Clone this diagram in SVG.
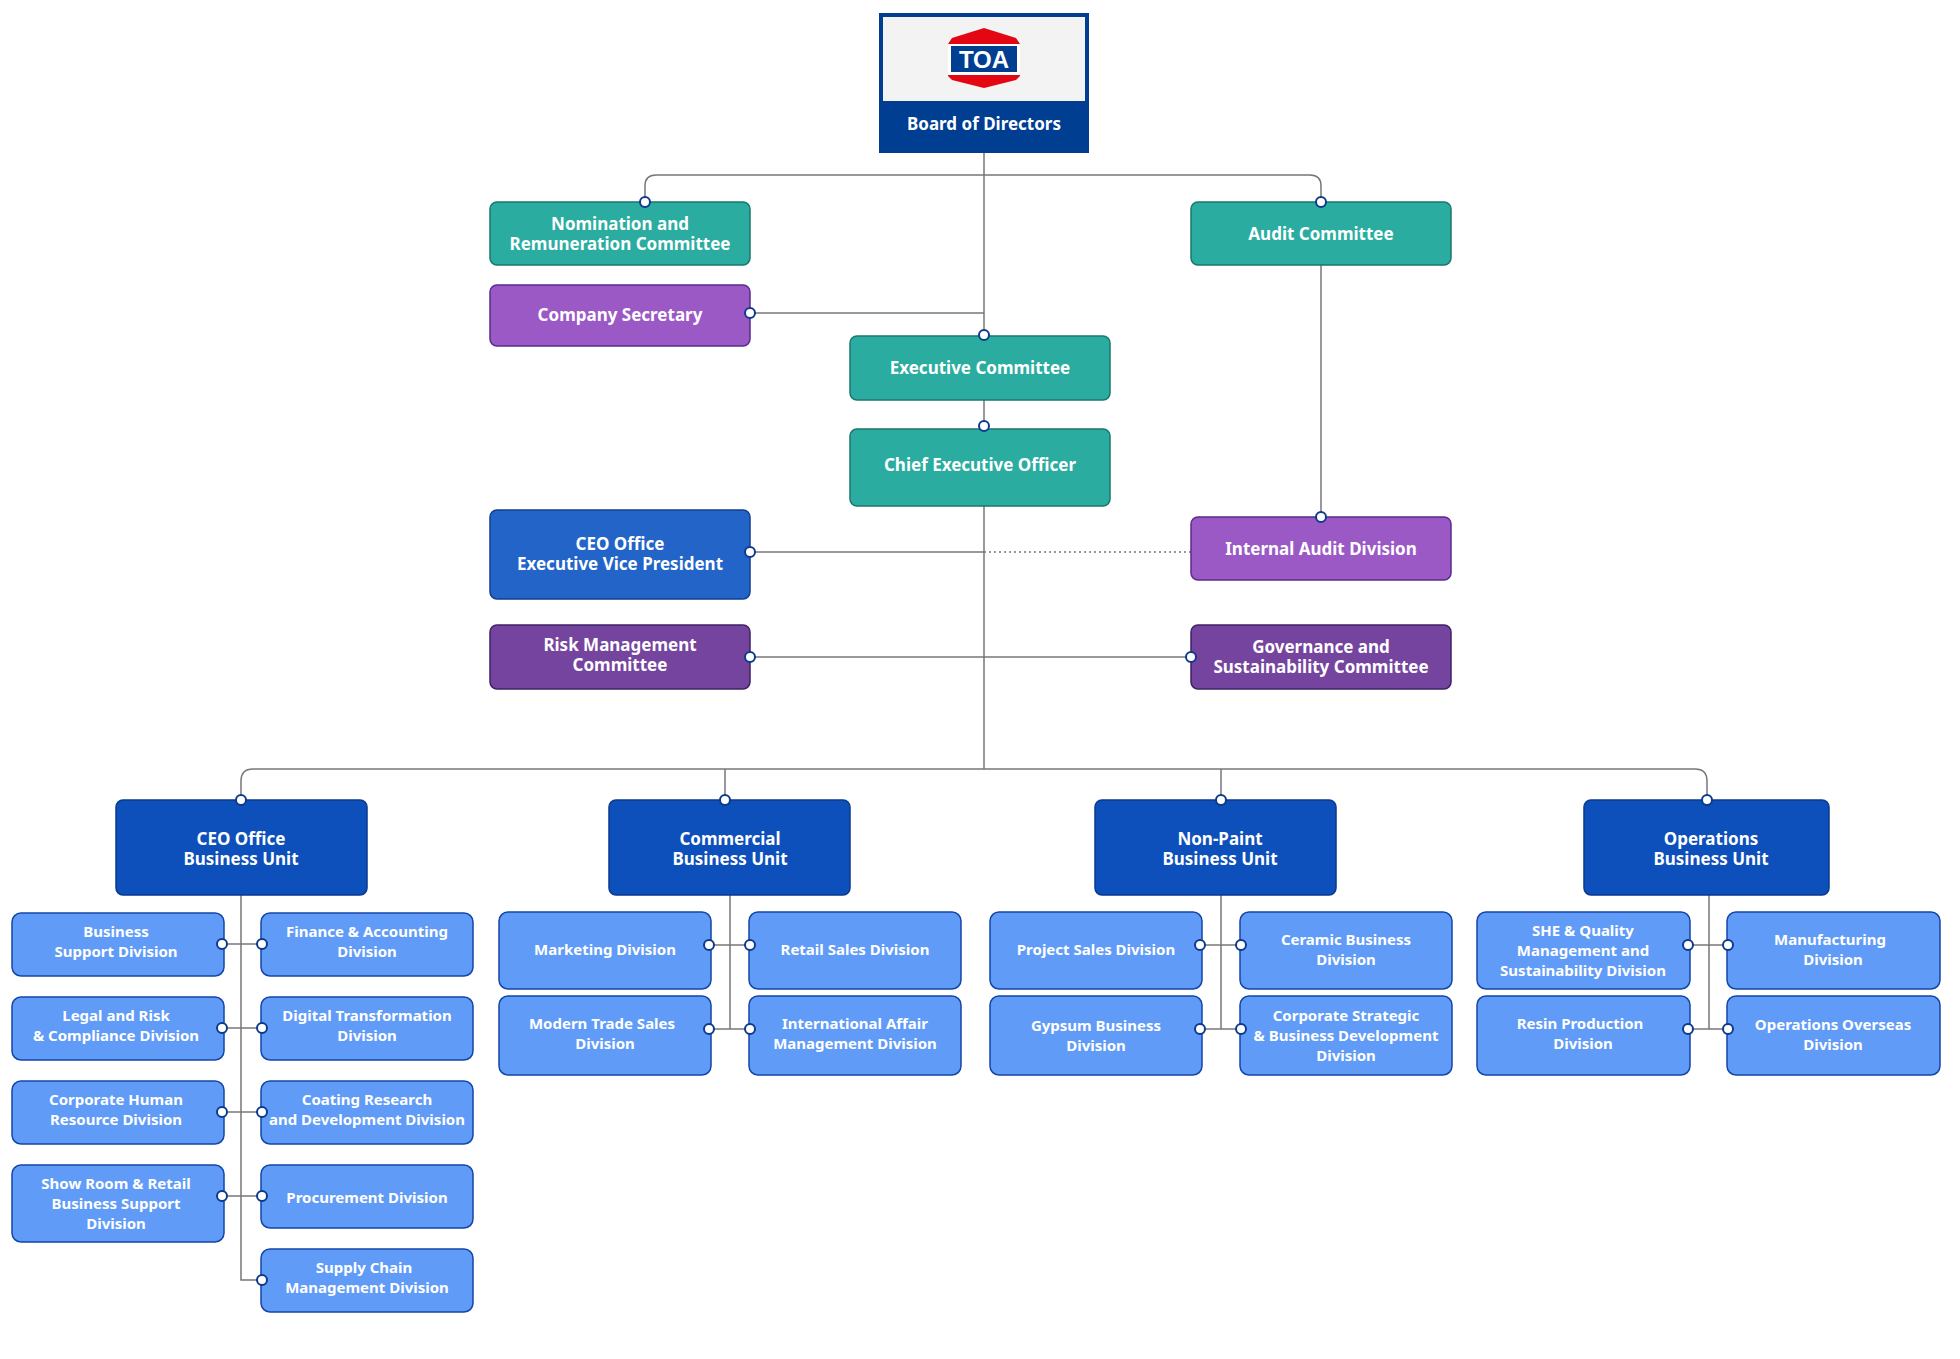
<svg xmlns="http://www.w3.org/2000/svg" width="1960" height="1359" viewBox="0 0 1960 1359">
<style>
text{font-family:"Noto Sans","DejaVu Sans",sans-serif;font-weight:bold;fill:#fff;text-anchor:middle}
.t{fill:#2aada0;stroke:#19776e;stroke-width:1.5}
.p{fill:#9b59c6;stroke:#5a2d8a;stroke-width:1.5}
.dp{fill:#74449e;stroke:#3e2266;stroke-width:1.5}
.b{fill:#2264c8;stroke:#123f8f;stroke-width:1.5}
.bu{fill:#0d4fbb;stroke:#0a3a8c;stroke-width:1.5}
.d{fill:#619bf8;stroke:#1446a8;stroke-width:1.5}
.n{font-size:17px}
.s{font-size:15px}
.c path,.c line{fill:none;stroke:#777;stroke-width:1.5}
.dot{fill:#fff;stroke:#0d3a8a;stroke-width:2}
</style>
<rect width="1960" height="1359" fill="#fff"/>
<g class="c">
<line x1="984" y1="153" x2="984" y2="769"/>
<path d="M645 202V186Q645 175 656 175H1310Q1321 175 1321 186V202"/>
<line x1="750" y1="313" x2="984" y2="313"/>
<line x1="1321" y1="265" x2="1321" y2="517"/>
<line x1="750" y1="552" x2="984" y2="552"/>
<line x1="984" y1="552" x2="1191" y2="552" stroke-dasharray="2,3"/>
<line x1="750" y1="657" x2="1191" y2="657"/>
<path d="M241 800V781Q241 769 253 769H1695Q1707 769 1707 781V800"/>
<line x1="725" y1="769" x2="725" y2="800"/>
<line x1="1221" y1="769" x2="1221" y2="800"/>
<path d="M241 895V1280H261"/>
<line x1="224" y1="944" x2="261" y2="944"/>
<line x1="224" y1="1028" x2="261" y2="1028"/>
<line x1="224" y1="1112" x2="261" y2="1112"/>
<line x1="224" y1="1196" x2="261" y2="1196"/>
<path d="M730 895V1029"/>
<line x1="711" y1="945" x2="749" y2="945"/><line x1="711" y1="1029" x2="749" y2="1029"/>
<path d="M1221 895V1029"/>
<line x1="1202" y1="945" x2="1240" y2="945"/><line x1="1202" y1="1029" x2="1240" y2="1029"/>
<path d="M1709 895V1029"/>
<line x1="1690" y1="945" x2="1727" y2="945"/><line x1="1690" y1="1029" x2="1727" y2="1029"/>
</g>
<g id="board">
<rect x="879" y="13" width="210" height="140" fill="#003e92"/>
<rect x="883" y="17" width="202" height="84" fill="#f3f3f3"/>
<polygon points="984,28 1016,38 1020,44 1020,76 1016,80 984,88 952,80 948,76 948,44 952,38" fill="#e30613"/>
<rect x="948" y="44" width="72" height="31" fill="#fff"/>
<rect x="951" y="46" width="66" height="26" fill="#003e92"/>
<text x="984" y="68" style="font-size:24px;font-family:'Liberation Sans',sans-serif;font-weight:900">TOA</text>
<text x="984" y="130" class="n">Board of Directors</text>
</g>
<g id="nomination"><rect x="490" y="202" width="260" height="63" rx="7" class="t"/><text x="620" y="230" class="n">Nomination and<tspan x="620" dy="20">Remuneration Committee</tspan></text></g>
<g id="audit"><rect x="1191" y="202" width="260" height="63" rx="7" class="t"/><text x="1321" y="240" class="n">Audit Committee</text></g>
<g id="secretary"><rect x="490" y="285" width="260" height="61" rx="7" class="p"/><text x="620" y="321" class="n">Company Secretary</text></g>
<g id="exec"><rect x="850" y="336" width="260" height="64" rx="7" class="t"/><text x="980" y="374" class="n">Executive Committee</text></g>
<g id="ceo"><rect x="850" y="429" width="260" height="77" rx="7" class="t"/><text x="980" y="471" class="n">Chief Executive Officer</text></g>
<g id="evp"><rect x="490" y="510" width="260" height="89" rx="7" class="b"/><text x="620" y="550" class="n">CEO Office<tspan x="620" dy="20">Executive Vice President</tspan></text></g>
<g id="internal"><rect x="1191" y="517" width="260" height="63" rx="7" class="p"/><text x="1321" y="555" class="n">Internal Audit Division</text></g>
<g id="risk"><rect x="490" y="625" width="260" height="64" rx="7" class="dp"/><text x="620" y="651" class="n">Risk Management<tspan x="620" dy="20">Committee</tspan></text></g>
<g id="gov"><rect x="1191" y="625" width="260" height="64" rx="7" class="dp"/><text x="1321" y="653" class="n">Governance and<tspan x="1321" dy="20">Sustainability Committee</tspan></text></g>

<g id="bu1"><rect x="116" y="800" width="251" height="95" rx="7" class="bu"/><text x="241" y="845" class="n">CEO Office<tspan x="241" dy="20">Business Unit</tspan></text></g>
<g id="bu2"><rect x="609" y="800" width="241" height="95" rx="7" class="bu"/><text x="730" y="845" class="n">Commercial<tspan x="730" dy="20">Business Unit</tspan></text></g>
<g id="bu3"><rect x="1095" y="800" width="241" height="95" rx="7" class="bu"/><text x="1220" y="845" class="n">Non-Paint<tspan x="1220" dy="20">Business Unit</tspan></text></g>
<g id="bu4"><rect x="1584" y="800" width="245" height="95" rx="7" class="bu"/><text x="1711" y="845" class="n">Operations<tspan x="1711" dy="20">Business Unit</tspan></text></g>

<g id="d1"><rect x="12" y="913" width="212" height="63" rx="9" class="d"/><text x="116" y="937" class="s">Business<tspan x="116" dy="20">Support Division</tspan></text></g>
<g id="d2"><rect x="261" y="913" width="212" height="63" rx="9" class="d"/><text x="367" y="937" class="s">Finance &amp; Accounting<tspan x="367" dy="20">Division</tspan></text></g>
<g id="d3"><rect x="12" y="997" width="212" height="63" rx="9" class="d"/><text x="116" y="1021" class="s">Legal and Risk<tspan x="116" dy="20">&amp; Compliance Division</tspan></text></g>
<g id="d4"><rect x="261" y="997" width="212" height="63" rx="9" class="d"/><text x="367" y="1021" class="s">Digital Transformation<tspan x="367" dy="20">Division</tspan></text></g>
<g id="d5"><rect x="12" y="1081" width="212" height="63" rx="9" class="d"/><text x="116" y="1105" class="s">Corporate Human<tspan x="116" dy="20">Resource Division</tspan></text></g>
<g id="d6"><rect x="261" y="1081" width="212" height="63" rx="9" class="d"/><text x="367" y="1105" class="s">Coating Research<tspan x="367" dy="20">and Development Division</tspan></text></g>
<g id="d7"><rect x="12" y="1165" width="212" height="77" rx="9" class="d"/><text x="116" y="1189" class="s">Show Room &amp; Retail<tspan x="116" dy="20">Business Support</tspan><tspan x="116" dy="20">Division</tspan></text></g>
<g id="d8"><rect x="261" y="1165" width="212" height="63" rx="9" class="d"/><text x="367" y="1203" class="s">Procurement Division</text></g>
<g id="d9"><rect x="261" y="1249" width="212" height="63" rx="9" class="d"/><text x="364" y="1273" class="s">Supply Chain<tspan x="367" dy="20">Management Division</tspan></text></g>

<g id="c1"><rect x="499" y="912" width="212" height="77" rx="9" class="d"/><text x="605" y="955" class="s">Marketing Division</text></g>
<g id="c2"><rect x="749" y="912" width="212" height="77" rx="9" class="d"/><text x="855" y="955" class="s">Retail Sales Division</text></g>
<g id="c3"><rect x="499" y="996" width="212" height="79" rx="9" class="d"/><text x="602" y="1029" class="s">Modern Trade Sales<tspan x="605" dy="20">Division</tspan></text></g>
<g id="c4"><rect x="749" y="996" width="212" height="79" rx="9" class="d"/><text x="855" y="1029" class="s">International Affair<tspan x="855" dy="20">Management Division</tspan></text></g>

<g id="n1"><rect x="990" y="912" width="212" height="77" rx="9" class="d"/><text x="1096" y="955" class="s">Project Sales Division</text></g>
<g id="n2"><rect x="1240" y="912" width="212" height="77" rx="9" class="d"/><text x="1346" y="945" class="s">Ceramic Business<tspan x="1346" dy="20">Division</tspan></text></g>
<g id="n3"><rect x="990" y="996" width="212" height="79" rx="9" class="d"/><text x="1096" y="1031" class="s">Gypsum Business<tspan x="1096" dy="20">Division</tspan></text></g>
<g id="n4"><rect x="1240" y="996" width="212" height="79" rx="9" class="d"/><text x="1346" y="1021" class="s">Corporate Strategic<tspan x="1346" dy="20">&amp; Business Development</tspan><tspan x="1346" dy="20">Division</tspan></text></g>

<g id="o1"><rect x="1477" y="912" width="213" height="77" rx="9" class="d"/><text x="1583" y="936" class="s">SHE &amp; Quality<tspan x="1583" dy="20">Management and</tspan><tspan x="1583" dy="20">Sustainability Division</tspan></text></g>
<g id="o2"><rect x="1727" y="912" width="213" height="77" rx="9" class="d"/><text x="1830" y="945" class="s">Manufacturing<tspan x="1833" dy="20">Division</tspan></text></g>
<g id="o3"><rect x="1477" y="996" width="213" height="79" rx="9" class="d"/><text x="1580" y="1029" class="s">Resin Production<tspan x="1583" dy="20">Division</tspan></text></g>
<g id="o4"><rect x="1727" y="996" width="213" height="79" rx="9" class="d"/><text x="1833" y="1030" class="s">Operations Overseas<tspan x="1833" dy="20">Division</tspan></text></g>

<g id="dots">
<circle class="dot" cx="645" cy="202" r="5"/><circle class="dot" cx="1321" cy="202" r="5"/>
<circle class="dot" cx="750" cy="313" r="5"/><circle class="dot" cx="984" cy="335" r="5"/>
<circle class="dot" cx="984" cy="426" r="5"/><circle class="dot" cx="1321" cy="517" r="5"/>
<circle class="dot" cx="750" cy="552" r="5"/><circle class="dot" cx="750" cy="657" r="5"/><circle class="dot" cx="1191" cy="657" r="5"/>
<circle class="dot" cx="241" cy="800" r="5"/><circle class="dot" cx="725" cy="800" r="5"/><circle class="dot" cx="1221" cy="800" r="5"/><circle class="dot" cx="1707" cy="800" r="5"/>
<circle class="dot" cx="222" cy="944" r="5"/><circle class="dot" cx="262" cy="944" r="5"/>
<circle class="dot" cx="222" cy="1028" r="5"/><circle class="dot" cx="262" cy="1028" r="5"/>
<circle class="dot" cx="222" cy="1112" r="5"/><circle class="dot" cx="262" cy="1112" r="5"/>
<circle class="dot" cx="222" cy="1196" r="5"/><circle class="dot" cx="262" cy="1196" r="5"/>
<circle class="dot" cx="262" cy="1280" r="5"/>
<circle class="dot" cx="709" cy="945" r="5"/><circle class="dot" cx="750" cy="945" r="5"/>
<circle class="dot" cx="709" cy="1029" r="5"/><circle class="dot" cx="750" cy="1029" r="5"/>
<circle class="dot" cx="1200" cy="945" r="5"/><circle class="dot" cx="1241" cy="945" r="5"/>
<circle class="dot" cx="1200" cy="1029" r="5"/><circle class="dot" cx="1241" cy="1029" r="5"/>
<circle class="dot" cx="1688" cy="945" r="5"/><circle class="dot" cx="1728" cy="945" r="5"/>
<circle class="dot" cx="1688" cy="1029" r="5"/><circle class="dot" cx="1728" cy="1029" r="5"/>
</g>
</svg>
